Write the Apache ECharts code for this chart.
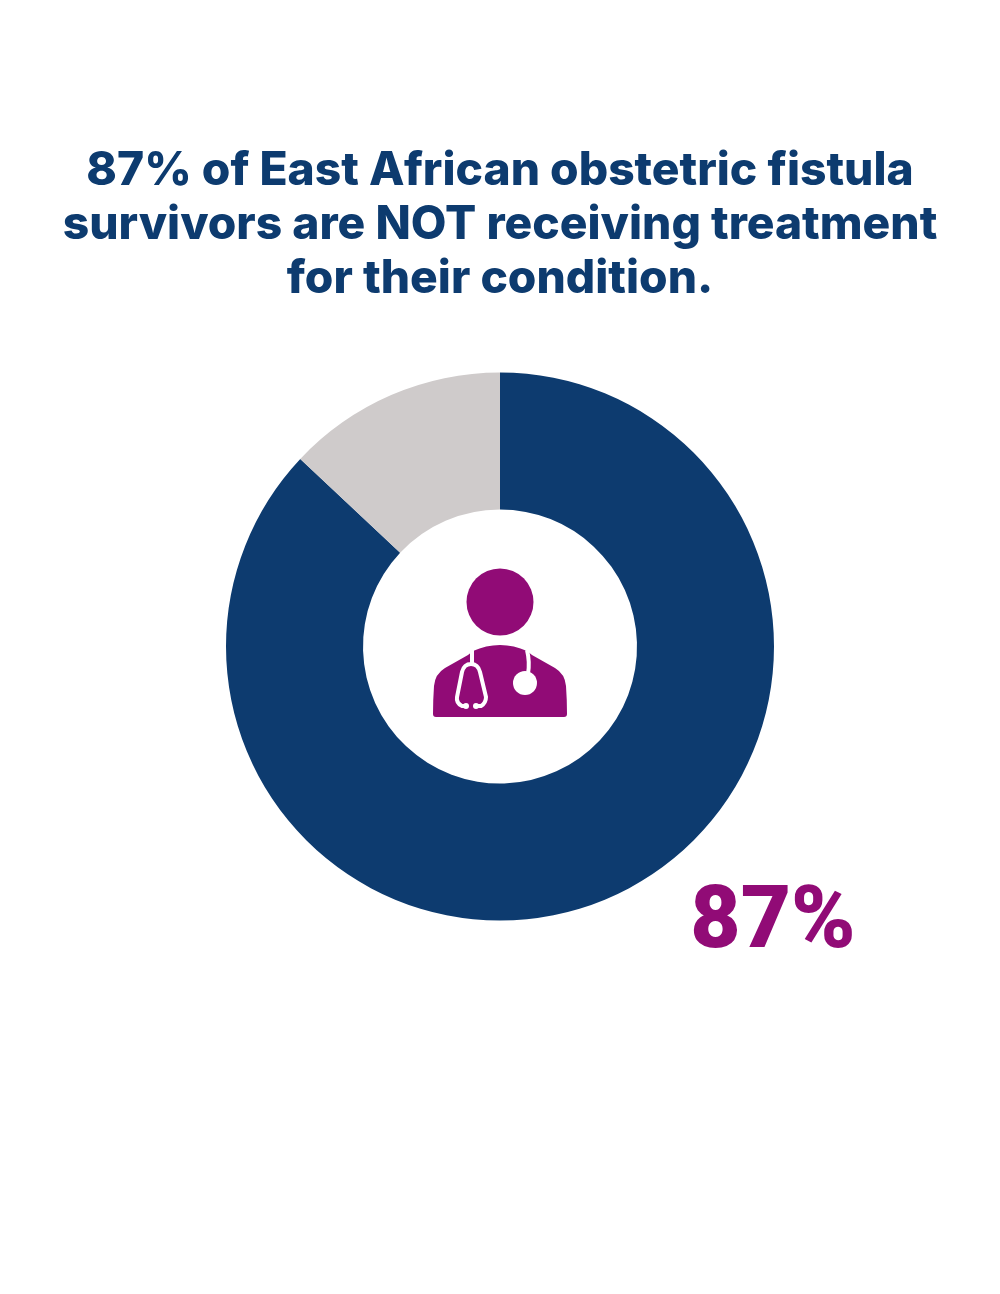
<!DOCTYPE html>
<html>
<head>
<meta charset="utf-8">
<title>Obstetric fistula treatment</title>
<script src="https://cdn.jsdelivr.net/npm/echarts@6/dist/echarts.min.js"></script>
<style>
  html, body { margin: 0; padding: 0; background: #fff; }
  #main { width: 1000px; height: 1294px; }
</style>
</head>
<body>
<div id="main"></div>
<script>
  // chart data
  const titleLines = [
    '87% of East African obstetric fistula',
    'survivors are NOT receiving treatment',
    'for their condition.'
  ];
  const categories = ['Not receiving treatment', 'Receiving treatment'];
  const values = [87, 13];

  const navy = '#0d3b6f';
  const grey = '#cfcbcb';
  const purple = '#910b76';

  // icon outline in page pixels
  const bodyPath = 'M436 717 Q433 717 433 714 Q433 700 434 686 Q435 674 445 668 L468 655 L473 651 ' +
    'Q486 645 500 645 Q514 645 527 651 L532 655 L555 668 Q565 674 566 686 Q567 700 567 714 Q567 717 564 717 Z';
  const leftTube = 'M472 650 L472 663 M466 706 L462 706 Q456 703 457 697 L462 672 Q464 664 471 664 ' +
    'Q478 664 480 672 L486 697 Q486 703 481 706 L476 706';
  const rightTube = 'M527 650 Q530 662 528 674';

  // doctor icon, the graphic component has no path type so a custom series draws it
  function renderIcon() {
    return {
      type: 'group',
      children: [
        { type: 'circle', shape: { cx: 500, cy: 602, r: 33.5 }, style: { fill: purple } },
        { type: 'path', shape: { pathData: bodyPath }, style: { fill: purple } },
        { type: 'path', shape: { pathData: leftTube }, style: { fill: 'none', stroke: '#fff', lineWidth: 4 } },
        { type: 'path', shape: { pathData: rightTube }, style: { fill: 'none', stroke: '#fff', lineWidth: 4 } },
        { type: 'circle', shape: { cx: 525, cy: 683, r: 12 }, style: { fill: '#fff' } },
        { type: 'circle', shape: { cx: 466, cy: 706, r: 3 }, style: { fill: '#fff' } },
        { type: 'circle', shape: { cx: 476, cy: 706, r: 3 }, style: { fill: '#fff' } }
      ]
    };
  }

  const chart = echarts.init(document.getElementById('main'));
  chart.setOption({
    backgroundColor: '#fff',
    animation: false,
    title: {
      text: titleLines.join('\n'),
      left: 'center',
      top: 139,
      textStyle: {
        color: navy,
        fontFamily: 'Inter',
        fontWeight: 800,
        fontSize: 46.2,
        lineHeight: 54
      }
    },
    series: [
      {
        type: 'pie',
        center: [500, 646.5],
        radius: [137, 274],
        startAngle: 90,
        clockwise: true,
        silent: true,
        label: { show: false },
        labelLine: { show: false },
        data: categories.map((name, i) => ({
          name: name,
          value: values[i],
          itemStyle: { color: i === 0 ? navy : grey }
        }))
      },
      {
        type: 'custom',
        coordinateSystem: 'none',
        silent: true,
        data: [0],
        renderItem: renderIcon
      }
    ],
    graphic: [
      {
        type: 'text',
        x: 773,
        y: 925,
        style: {
          text: values[0] + '%',
          fill: purple,
          font: '900 87px Roboto',
          textAlign: 'center',
          textVerticalAlign: 'middle'
        }
      }
    ]
  });
</script>
</body>
</html>
